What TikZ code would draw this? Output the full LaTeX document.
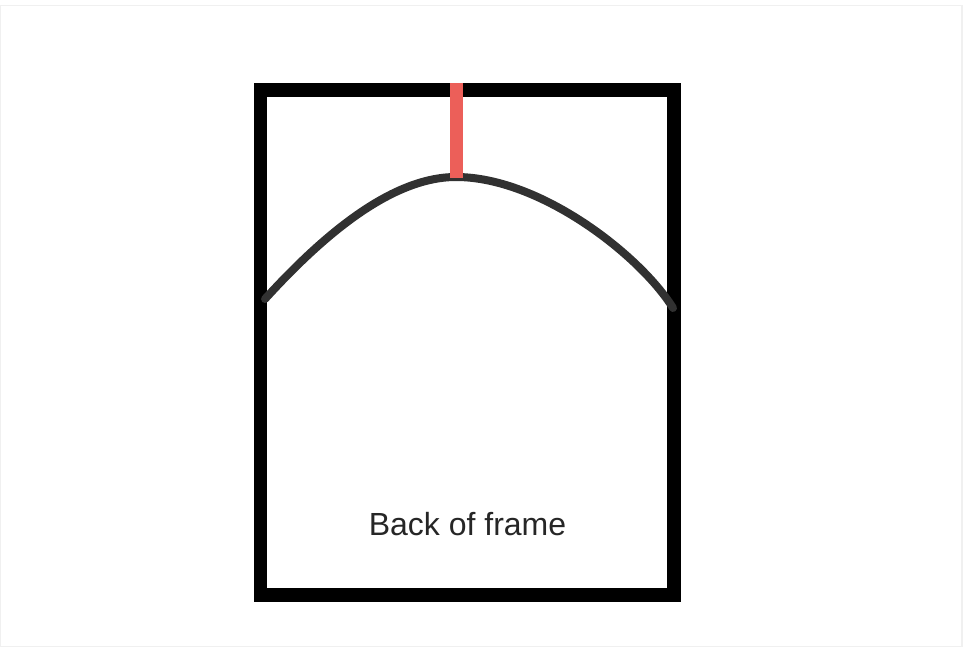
\documentclass[tikz,border=0pt]{standalone}
\usepackage{fontspec}
\setmainfont{Liberation Sans}
\usepackage{xcolor}
\definecolor{Coral Red}{HTML}{EC5F59}
\definecolor{Charcoal}{HTML}{313131}
\colorlet{cRed}{Coral Red}
\colorlet{cDark}{Charcoal}
\usepackage{tikz}
\usetikzlibrary{calc, positioning}
\tikzset{
	x = 1pt,
	y = -1pt,
	framebox/.style={
		draw=black,
		line width=13.5pt,
		line join=miter
	},
	wire/.style={
		draw=cDark,
		line width=8pt,
		line cap=round
	},
	hanger/.style={
		draw=cRed,
		line width=13pt
	},
	caption/.style={
		font=\fontsize{32}{38}\selectfont,
		text=black!85,
		inner sep=0pt
	}
}

\begin{document}
\begin{tikzpicture}
	\useasboundingbox (0,0) rectangle (972,648);
	\draw[gray!12, line width=1.5pt] (0.5,5.5) rectangle (962,646.5);

	\coordinate (wl) at (265,299);
	\coordinate (wt) at (456,177);
	\coordinate (wr) at (673,308);
	\coordinate (ht) at (456,83);

	\draw[framebox] (260.5,90) rectangle (674,595);
	\draw[wire] (wl) .. controls (317,242) and (388,177) .. (wt)
		.. controls (540,177) and (640,255) .. (wr);
	\draw[hanger] (ht) -- ($(wt)+(0,1)$);

	\node (back) [caption, anchor=base] at (467.5,535) {Back of frame};
\end{tikzpicture}
\end{document}
